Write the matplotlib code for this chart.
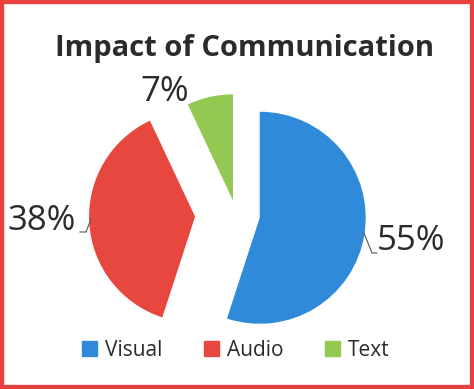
import matplotlib
matplotlib.use('Agg')
import matplotlib.pyplot as plt
from matplotlib.patches import Rectangle

# chart data
categories = ['Visual', 'Audio', 'Text']
shares = [55, 38, 7]
pct_labels = ['55%', '38%', '7%']
colours = ['#2f8bd9', '#e8473f', '#93c851']

W, H = 474, 389
plt.rcParams['font.family'] = ['Open Sans', 'DejaVu Sans']

fig = plt.figure(figsize=(W / 100, H / 100), dpi=100)
ax = fig.add_axes([0, 0, 1, 1])
ax.set_xlim(0, W)
ax.set_ylim(0, H)
ax.set_aspect('equal')
ax.axis('off')

# pie in pixel units (y measured from bottom)
wedges, _ = ax.pie(shares, colors=colours, startangle=90, counterclock=False,
                   radius=106, center=(236, H - 214), explode=[24, 41, 14],
                   wedgeprops=dict(linewidth=0))
ax.set_xlim(0, W)
ax.set_ylim(0, H)

txt = '#2b2b2b'
ax.text(245, H - 48, 'Impact of Communication', ha='center', va='center',
        fontsize=21, fontweight='bold', color=txt)

# percentage labels with leader lines
ax.text(377, H - 241, pct_labels[0], ha='left', va='center', fontsize=25, color=txt)
ax.plot([364, 372, 377], [H - 233, H - 253, H - 253], color='#555555', lw=0.8)
ax.text(76, H - 221, pct_labels[1], ha='right', va='center', fontsize=25, color=txt)
ax.plot([80, 86, 91], [H - 232, H - 232, H - 219], color='#555555', lw=0.8)
ax.text(165, H - 92, pct_labels[2], ha='center', va='center', fontsize=25, color=txt)

# legend
handles = [Rectangle((0, 0), 1, 1, color=c) for c in colours]
fig.legend(handles, categories, loc='center', bbox_to_anchor=(236 / W, 1 - 350 / H),
           ncol=3, frameon=False, fontsize=15, handlelength=0.7, handleheight=0.7,
           handletextpad=0.4, columnspacing=2.0, labelcolor=txt)

# red frame around the picture
fig.patches.append(Rectangle((0, 0), 1, 1, transform=fig.transFigure, fill=False,
                             edgecolor='#e8403f', linewidth=6, zorder=10))

fig.savefig('out.png', dpi=100)
